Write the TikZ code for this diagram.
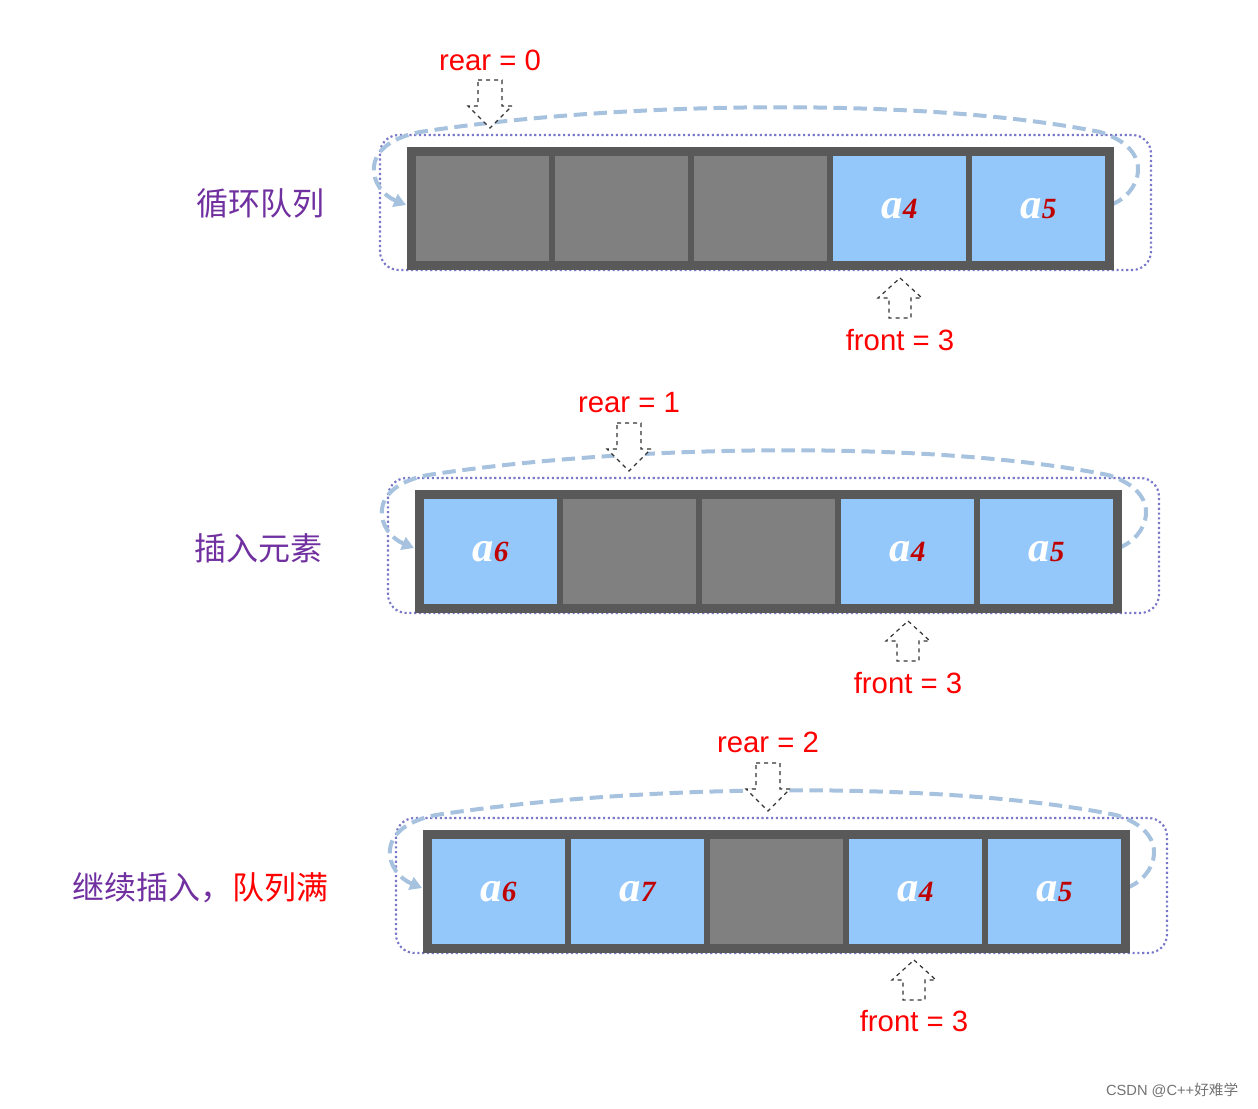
\documentclass[tikz,border=0pt]{standalone}
\usepackage{fontspec}
\setmainfont{Liberation Serif}
\setsansfont{Liberation Sans}
\newfontfamily\cjk{Noto Sans CJK SC}
\usetikzlibrary{arrows.meta}
\definecolor{cellgray}{HTML}{808080}
\definecolor{cellblue}{HTML}{94C8FA}
\definecolor{frameg}{HTML}{595959}
\definecolor{loopb}{HTML}{A6C2DF}
\definecolor{dotb}{HTML}{7878C8}
\definecolor{purp}{HTML}{7030A0}
\definecolor{dred}{HTML}{C00000}
\tikzset{
 cell/.style={draw=frameg,line width=4.5pt,minimum width=104.25pt,minimum height=83.25pt,inner sep=0pt,anchor=north west},
 gcell/.style={cell,fill=cellgray},
 bcell/.style={cell,fill=cellblue},
 ptr/.style={draw=black!80,dashed,line width=0.9pt,fill=white},
 lbl/.style={text=red,font=\sffamily\fontsize{22}{24}\selectfont},
 title/.style={font=\cjk\fontsize{24}{28}\selectfont},
 loop/.style={draw=loopb,line width=3pt,dash pattern=on 10pt off 5pt},
 ring/.style={draw=dotb,line width=1.6pt,dotted,rounded corners=14pt}
}
\newcommand\elem[1]{{\fontsize{32}{32}\selectfont\bfseries\itshape\color{white}a}{\fontsize{22}{22}\selectfont\bfseries\itshape\color{dred}#1}}
\newcommand\myqueue[6]{%
% #1 prefix, #2 x0, #3 y0, #4 rear index, #5 cell 0 content, #6 cell1 content
\begin{scope}[shift={(#2,#3)}]
 \draw[ring] (-30,-15) rectangle (741,120);
 \coordinate (#1L) at (-4,55);
 \coordinate (#1R) at (700,55);
 \draw[loop,-{Triangle[length=9pt,width=10pt]}] (#1R) .. controls (730,45) and (748,0) .. (690,-18) .. controls (520,-52) and (220,-50) .. (10,-18) .. controls (-55,-5) and (-40,40) .. (#1L);
\end{scope}}
\begin{document}
\begin{tikzpicture}[x=0.75pt,y=-0.75pt]
\useasboundingbox (0,0) rectangle (1258,1108);
% ---------- diagram 1
\myqueue{a}{410}{150}{0}{}{}
\node[gcell] (a0) at (410,150) {};
\node[gcell] (a1) at (549,150) {};
\node[gcell] (a2) at (688,150) {};
\node[bcell] (a3) at (827,150) {\elem{4}};
\node[bcell] (a4) at (966,150) {\elem{5}};
\draw[frameg,line width=4.5pt] (a0.north west) rectangle (a4.south east);
\node[title,text=purp] (t1) at (260,203) {循环队列};
\node[lbl] (r1) at (490,60) {rear = 0};
\node[lbl] (f1) at (900,340) {front = 3};
\draw[ptr] (478,80)--(502,80)--(502,106)--(512,106)--(490,128)--(468,106)--(478,106)--cycle;
\draw[ptr] (900,278)--(922,298)--(911,298)--(911,318)--(889,318)--(889,298)--(878,298)--cycle;
% ---------- diagram 2
\myqueue{b}{418}{493}{1}{}{}
\node[bcell] (b0) at (418,493) {\elem{6}};
\node[gcell] (b1) at (557,493) {};
\node[gcell] (b2) at (696,493) {};
\node[bcell] (b3) at (835,493) {\elem{4}};
\node[bcell] (b4) at (974,493) {\elem{5}};
\draw[frameg,line width=4.5pt] (b0.north west) rectangle (b4.south east);
\node[title,text=purp] (t2) at (258,548) {插入元素};
\node[lbl] (r2) at (629,403) {rear = 1};
\node[lbl] (f2) at (908,683) {front = 3};
\draw[ptr] (617,423)--(641,423)--(641,449)--(651,449)--(629,471)--(607,449)--(617,449)--cycle;
\draw[ptr] (908,621)--(930,641)--(919,641)--(919,661)--(897,661)--(897,641)--(886,641)--cycle;
% ---------- diagram 3
\myqueue{c}{426}{833}{2}{}{}
\node[bcell] (c0) at (426,833) {\elem{6}};
\node[bcell] (c1) at (565,833) {\elem{7}};
\node[gcell] (c2) at (704,833) {};
\node[bcell] (c3) at (843,833) {\elem{4}};
\node[bcell] (c4) at (982,833) {\elem{5}};
\draw[frameg,line width=4.5pt] (c0.north west) rectangle (c4.south east);
\node[title,anchor=east] (t3) at (333,888) {\textcolor{purp}{继续插入，}\textcolor{red}{队列满}};
\node[lbl] (r3) at (768,742) {rear = 2};
\node[lbl] (f3) at (914,1021) {front = 3};
\draw[ptr] (756,763)--(780,763)--(780,789)--(790,789)--(768,811)--(746,789)--(756,789)--cycle;
\draw[ptr] (914,960)--(936,980)--(925,980)--(925,1000)--(903,1000)--(903,980)--(892,980)--cycle;
% watermark
\node[text=black!55,font=\sffamily\fontsize{11}{12}\selectfont,anchor=east] (wm) at (1243,1090) {CSDN @C++{\cjk 好难学}};
\end{tikzpicture}
\end{document}
